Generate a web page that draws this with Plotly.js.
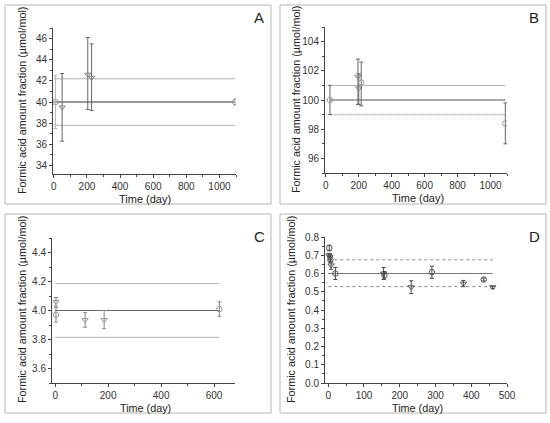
<!DOCTYPE html>
<html><head><meta charset="utf-8">
<script src="https://cdn.plot.ly/plotly-3.0.1.min.js"></script>
<style>html,body{margin:0;padding:0;background:#fff}#chart{width:550px;height:423px}</style>
</head><body><div id="chart"></div>
<script>
// Panel A
const aTriX = [50, 205, 228];
const aTriY = [39.5, 42.6, 42.3];
const aTriErrP = [3.2, 3.5, 3.2];
const aTriErrM = [3.2, 3.3, 3.1];
const aCircX = [10, 1095];
const aCircY = [40.0, 40.0];
const aCircErr = [2.5, 0.3];
const aRefX = [0, 1095];
const aMean = 40.0, aUpper = 42.2, aLower = 37.8;

// Panel B
const bTriX = [195, 200];
const bTriY = [101.6, 100.8];
const bTriErrP = [1.2, 1.0];
const bTriErrM = [1.9, 1.1];
const bCircX = [25, 215, 1090];
const bCircY = [100.0, 101.2, 98.4];
const bCircErrP = [1.0, 1.4, 1.4];
const bCircErrM = [1.0, 1.6, 1.4];
const bRefX = [25, 1090];
const bMean = 100.0, bUpper = 101.0, bLower = 99.0;

// Panel C
const cTriX = [3, 113, 185];
const cTriY = [4.06, 3.935, 3.935];
const cTriErrP = [0.03, 0.05, 0.065];
const cTriErrM = [0.03, 0.05, 0.06];
const cCircX = [3, 620];
const cCircY = [3.97, 4.01];
const cCircErr = [0.05, 0.05];
const cRefX = [0, 620];
const cMean = 4.0, cUpper = 4.185, cLower = 3.815;

// Panel D
const dTriX = [2, 5, 8, 155, 232, 378, 460];
const dTriY = [0.70, 0.69, 0.645, 0.60, 0.525, 0.545, 0.525];
const dTriErr = [0.01, 0.015, 0.022, 0.033, 0.035, 0.017, 0.007];
const dCircX = [3, 6, 20, 157, 290, 435];
const dCircY = [0.74, 0.675, 0.60, 0.59, 0.607, 0.567];
const dCircErr = [0.015, 0.015, 0.033, 0.02, 0.033, 0.008];
const dRefX = [0, 460];
const dMean = 0.60, dUpper = 0.675, dLower = 0.528;

const yTitle = 'Formic acid amount fraction (µmol/mol)';
const xTitle = 'Time (day)';
const panelLetters = ['A', 'B', 'C', 'D'];

const F = 'Liberation Sans, Arial, sans-serif';
function errTrace(x, y, ep, em, sym, xa, ya, col, mcol){
  return {x:x, y:y, xaxis:xa, yaxis:ya, type:'scatter', mode:'markers',
    marker:{symbol: sym+'-open', size:5.5, color: mcol, line:{width:1, color:mcol}},
    error_y:{type:'data', symmetric:false, array:ep, arrayminus:em, color:col, thickness:1, width:2},
    showlegend:false, hoverinfo:'skip'};
}
function hline(xs, v, xa, ya, col, w, dash){
  return {x:xs, y:[v,v], xaxis:xa, yaxis:ya, type:'scatter', mode:'lines',
    line:{color:col, width:w, dash:dash}, showlegend:false, hoverinfo:'skip'};
}
const traces = [
  hline(aRefX, aUpper, 'x','y','#b0b0b0',1,'solid'),
  hline(aRefX, aLower, 'x','y','#b0b0b0',1,'solid'),
  hline(aRefX, aMean, 'x','y','#777',1.6,'solid'),
  errTrace(aTriX, aTriY, aTriErrP, aTriErrM, 'triangle-down','x','y','#666','#888'),
  errTrace(aCircX, aCircY, aCircErr, aCircErr, 'circle','x','y','#bbb','#999'),

  hline(bRefX, bUpper, 'x2','y2','#b0b0b0',1,'solid'),
  hline(bRefX, bLower, 'x2','y2','#b8b8b8',1.3,'3px,1px'),
  hline(bRefX, bMean, 'x2','y2','#555',1.2,'solid'),
  errTrace(bTriX, bTriY, bTriErrP, bTriErrM, 'triangle-down','x2','y2','#666','#888'),
  errTrace(bCircX, bCircY, bCircErrP, bCircErrM, 'circle','x2','y2','#666','#999'),

  hline(cRefX, cUpper, 'x3','y3','#b0b0b0',1,'solid'),
  hline(cRefX, cLower, 'x3','y3','#b0b0b0',1,'solid'),
  hline(cRefX, cMean, 'x3','y3','#666',1.2,'solid'),
  errTrace(cTriX, cTriY, cTriErrP, cTriErrM, 'triangle-down','x3','y3','#888','#999'),
  errTrace(cCircX, cCircY, cCircErr, cCircErr, 'circle','x3','y3','#888','#999'),

  hline(dRefX, dUpper, 'x4','y4','#888',1,'dot'),
  hline(dRefX, dLower, 'x4','y4','#888',1,'dot'),
  hline(dRefX, dMean, 'x4','y4','#777',1.2,'solid'),
  errTrace(dTriX, dTriY, dTriErr, dTriErr, 'triangle-down','x4','y4','#444','#555'),
  errTrace(dCircX, dCircY, dCircErr, dCircErr, 'circle','x4','y4','#444','#555')
];

function xax(dom, range, dt, minorDt, anchor){
  return {domain:dom, range:range, anchor:anchor, showline:true, linecolor:'#444', linewidth:1,
    ticks:'outside', ticklen:3, tickcolor:'#444', dtick:dt, tick0:0, showgrid:false, zeroline:false,
    minor:{ticks:'outside', ticklen:2, dtick:minorDt, tickcolor:'#444'},
    tickfont:{family:F, size:10, color:'#333'}};
}
function yax(dom, range, dt, minorDt, anchor, t0, fmt){
  return {domain:dom, range:range, anchor:anchor, showline:true, linecolor:'#444', linewidth:1,
    ticks:'outside', ticklen:3, tickcolor:'#444', dtick:dt, tick0:t0, showgrid:false, zeroline:false,
    tickformat:fmt,
    minor:{ticks:'outside', ticklen:2, dtick:minorDt, tickcolor:'#444'},
    tickfont:{family:F, size:10, color:'#333'}};
}
const W=550, H=423;
const dx = (a,b)=>[a/W, b/W];
const dy = (top,bot)=>[1-bot/H, 1-top/H];
function box(x0,y0,x1,y1){
  return {type:'rect', xref:'paper', yref:'paper', x0:x0/W, x1:x1/W, y0:1-y1/H, y1:1-y0/H,
    line:{color:'#b5b5b5', width:1}};
}
function txt(t, x, y, size, angle){
  return {text:t, xref:'paper', yref:'paper', x:x/W, y:1-y/H, showarrow:false, textangle:angle||0,
    font:{family:F, size:size, color:'#222'}, xanchor:'center', yanchor:'middle'};
}
const layout = {
  width:W, height:H, margin:{l:0,r:0,t:0,b:0}, paper_bgcolor:'#fff', plot_bgcolor:'rgba(0,0,0,0)',
  showlegend:false,
  xaxis: xax(dx(53,236), [-5,1100], 200, 100, 'y'),
  yaxis: yax(dy(28,174), [33.2,47], 2, 1, 'x', 0),
  xaxis2: xax(dx(325,507), [-5,1100], 200, 100, 'y2'),
  yaxis2: yax(dy(27,173), [95,105], 2, 1, 'x2', 0),
  xaxis3: xax(dx(52,235), [-12,679], 200, 100, 'y3'),
  yaxis3: yax(dy(238,383), [3.5,4.5], 0.2, 0.1, 'x3', 0, '.1f'),
  xaxis4: xax(dx(325,507), [-9,500], 100, 50, 'y4'),
  yaxis4: yax(dy(237,383), [0,0.8], 0.1, 0.05, 'x4', 0, '.1f'),
  shapes:[box(5,5,271,204), box(280,5,546,204), box(5,214,271,413), box(280,214,546,413)],
  annotations:[
    txt(panelLetters[0],259,18,15), txt(panelLetters[1],534,18,15),
    txt(panelLetters[2],259,236,15), txt(panelLetters[3],534,236,15),
    txt(yTitle,22,101,10.8,-90), txt(yTitle,296,100,10.8,-90),
    txt(yTitle,22,310,10.8,-90), txt(yTitle,291,310,10.8,-90),
    txt(xTitle,145,199,11), txt(xTitle,418,198,11),
    txt(xTitle,145,407.5,10.8), txt(xTitle,417,407.5,10.8)
  ]
};
Plotly.newPlot('chart', traces, layout, {staticPlot:true});
</script></body></html>
